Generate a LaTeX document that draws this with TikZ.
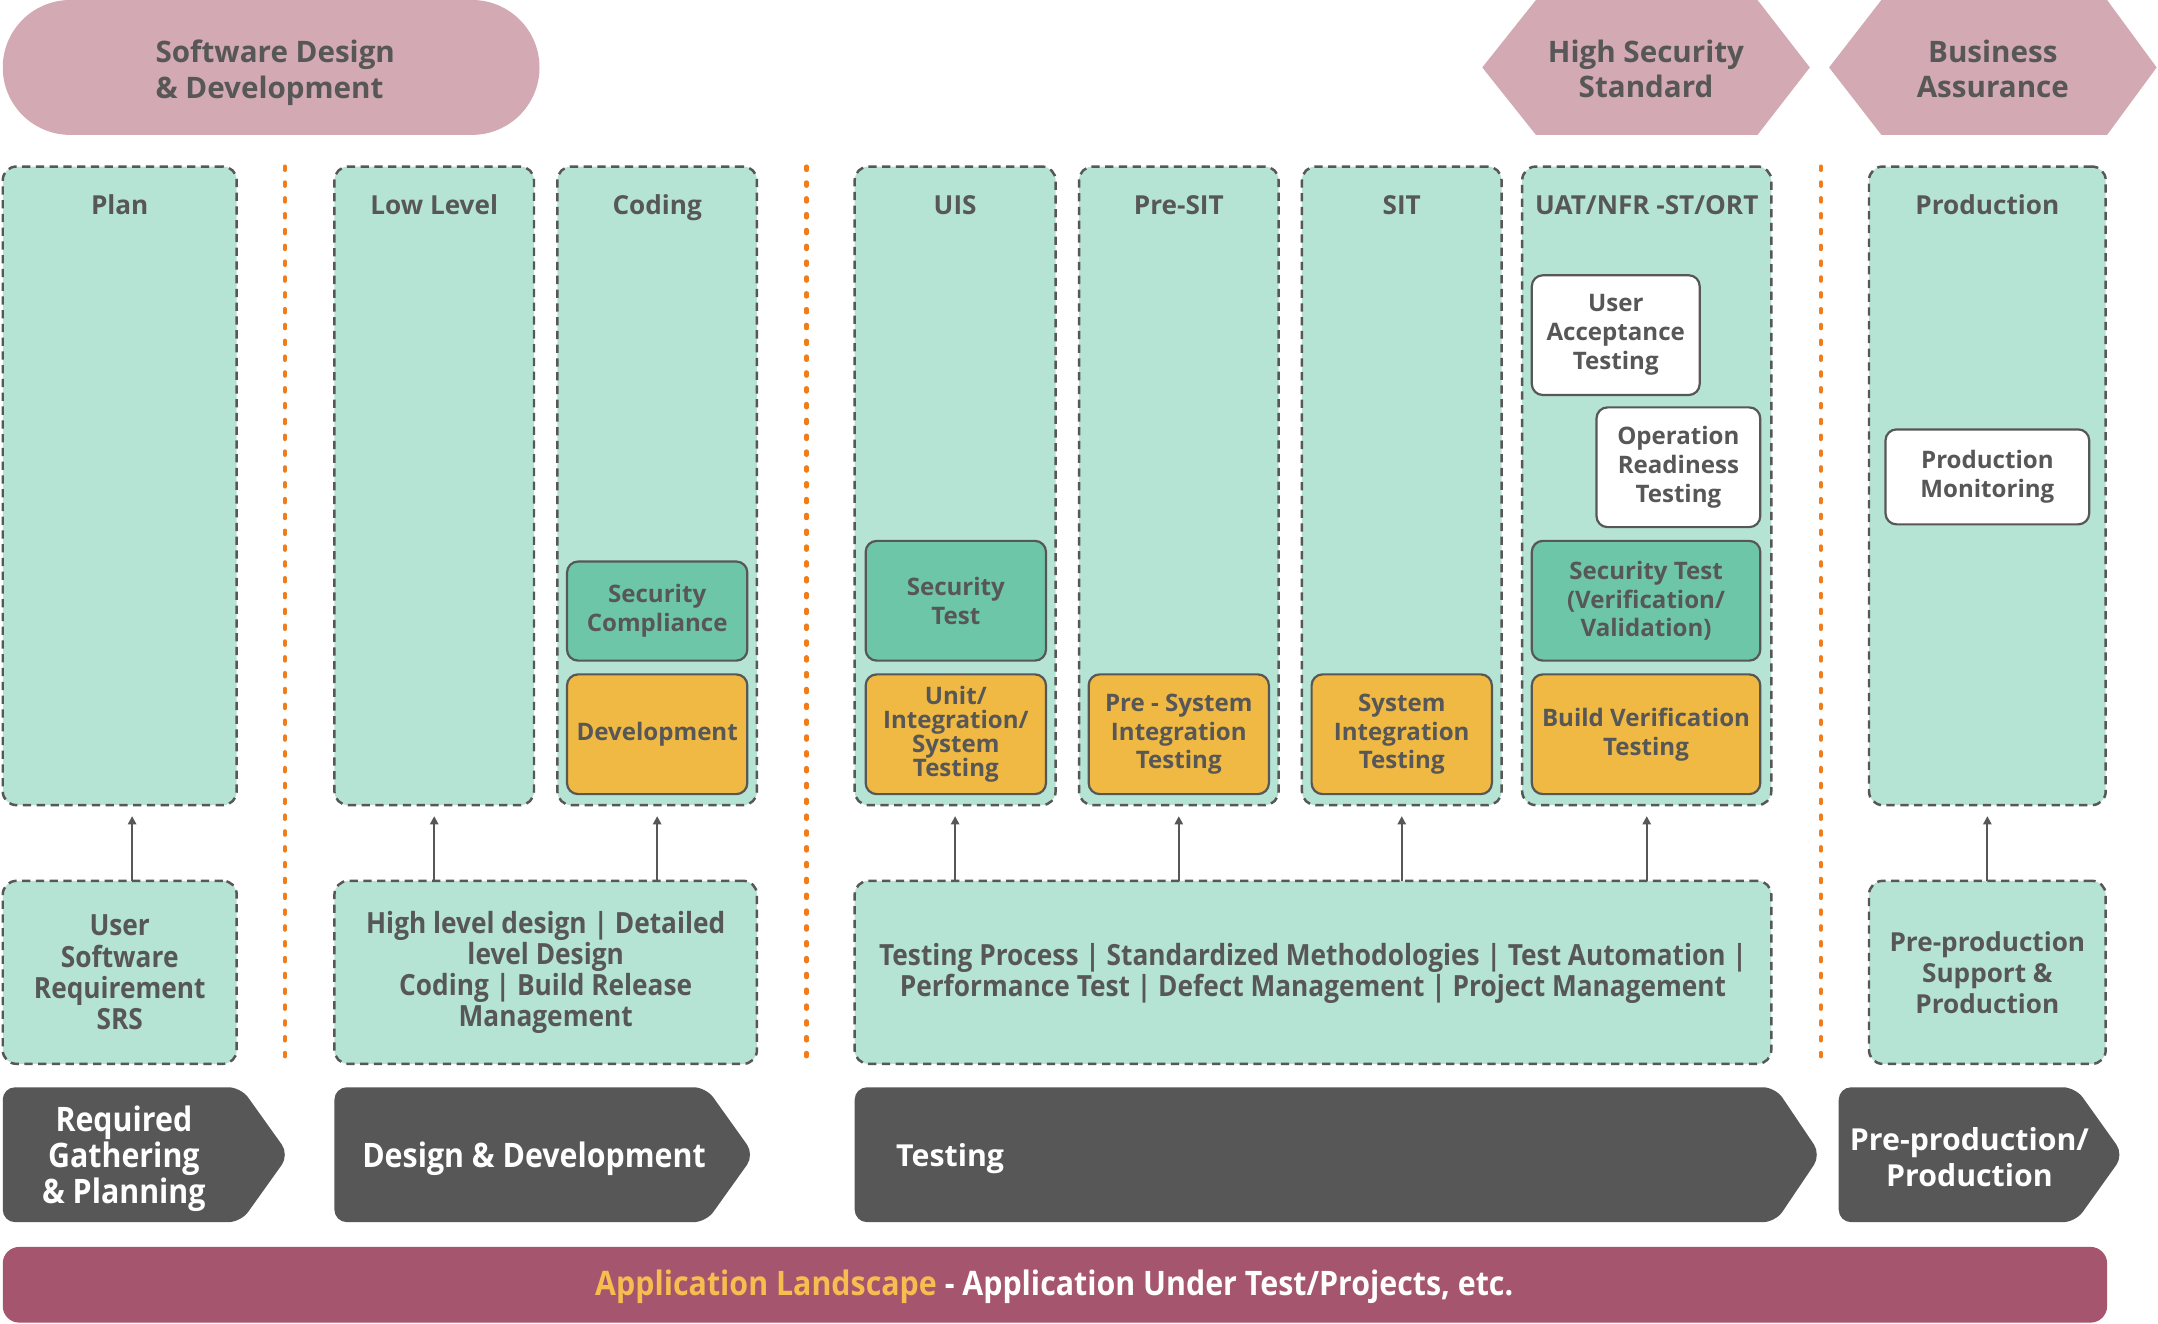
\documentclass[tikz,border=0pt]{standalone}
\usepackage{fontspec}
\setmainfont{Open Sans}
\newfontfamily\condfont{Open Sans}[FakeStretch=0.9]
\usetikzlibrary{arrows.meta}
\usetikzlibrary{positioning}
\definecolor{mint}{HTML}{B5E3D4}
\definecolor{secteal}{HTML}{6DC6A8}
\definecolor{devgold}{HTML}{EFB943}
\definecolor{rose}{HTML}{D3A9B4}
\definecolor{slate}{HTML}{575757}
\definecolor{wine}{HTML}{A5566E}
\definecolor{seporange}{HTML}{F07C1A}
\definecolor{hilite}{HTML}{F5BE4F}

\begin{document}
\begin{tikzpicture}[x=1pt,y=-1pt,
	colbox/.style={draw=slate,fill=mint,line width=1.8pt,dash pattern=on 6pt off 4pt,
		rounded corners=10pt,inner sep=0pt,outer sep=0pt,align=center,text=slate},
	hdr/.style={text=slate,inner sep=0pt,font=\fontsize{19}{22}\selectfont\bfseries},
	subbox/.style={draw=slate,line width=1.6pt,rounded corners=8pt,inner sep=0pt,outer sep=0pt,
		minimum width=131pt,minimum height=87pt,align=center,text=slate,
		font=\fontsize{17.5}{21}\selectfont\bfseries},
	lowtxt/.style={font=\condfont\fontsize{21.2}{22.6}\selectfont\bfseries},
	arr/.style={draw=slate,line width=1.4pt,-{Triangle[length=6pt,width=6pt]}},
	sep/.style={draw=seporange,line width=3pt,line cap=round,dash pattern=on 2.5pt off 9pt},
	chev/.style={fill=slate,rounded corners=9pt},
	chevtxt/.style={text=white,align=center,inner sep=0pt,font=\condfont\fontsize{24.5}{26}\selectfont\bfseries},
	toplbl/.style={text=slate,align=center,inner sep=0pt,font=\fontsize{21.5}{26}\selectfont\bfseries}]
	\def\colT{121};
	\def\colB{585};
	\def\chT{790};
	\def\chM{839};
	\def\chB{888};
	\useasboundingbox[fill=white] (0,0) rectangle (1568,962);
	% top banners
	\fill[rose,rounded corners=49pt] (2,0) rectangle (392,98);
	\node[toplbl,align=left] (sdd) at (200,53) {Software Design\\\& Development};
	\fill[rose] (1077,49) -- (1116,0) -- (1277,0) -- (1315,49) -- (1277,98) -- (1116,98) -- cycle;
	\node[toplbl] (hss) at (1196,50) {High Security\\Standard};
	\fill[rose] (1329,49) -- (1367,0) -- (1531,0) -- (1567,49) -- (1531,98) -- (1367,98) -- cycle;
	\node[toplbl] (ba) at (1448,50) {Business\\Assurance};
	% phase columns
	\foreach \n/\cx/\w/\t in {plan/87/170/Plan, low/315.5/145/Low Level, coding/477.5/145/Coding,
		uis/694/146/UIS, presit/856.5/145/Pre-SIT, sit/1018.5/145/SIT,
		uat/1196.5/181/{UAT/NFR -ST/ORT}, prod/1444/172/Production}{
		\node[colbox,minimum width=\w pt,minimum height=464pt] (\n) at (\cx,353) {};
		\node[hdr,anchor=base] (\n H) at ([yshift=-35pt]\n.north) {\t};
	}
	\node[subbox,fill=secteal,minimum height=72pt] (seccomp) at (477.5,444) {Security\\Compliance};
	\node[subbox,fill=devgold] (dev) at (477.5,533.5) {Development};
	\node[subbox,fill=secteal] (uissec) at (694.5,436.5) {Security\\Test};
	\node[subbox,fill=devgold,font=\fontsize{17.5}{17.5}\selectfont\bfseries] (uisunit) at (694.5,533.5) {Unit/\\Integration/\\System\\Testing};
	\node[subbox,fill=devgold] (presitbox) at (856.5,533.5) {Pre - System\\Integration\\Testing};
	\node[subbox,fill=devgold] (sitbox) at (1018.5,533.5) {System\\Integration\\Testing};
	\node[subbox,fill=white,minimum width=122pt] (uatbox) at (1174,243.5) {User\\Acceptance\\Testing};
	\node[subbox,fill=white,minimum width=119pt] (orbox) at (1219.5,339.5) {Operation\\Readiness\\Testing};
	\node[subbox,fill=secteal,minimum width=166pt] (uatsec) at (1196,436.5) {Security Test\\(Verification/\\Validation)};
	\node[subbox,fill=devgold,minimum width=166pt] (bvt) at (1196,533.5) {Build Verification\\Testing};
	\node[subbox,fill=white,minimum width=148pt,minimum height=69pt] (prodmon) at (1444,346.5) {Production\\Monitoring};
	% support boxes
	\node[colbox,lowtxt,minimum width=170pt,minimum height=133pt] (srs) at (87,706.5) {User\\Software\\Requirement\\SRS};
	\node[colbox,lowtxt,minimum width=307pt,minimum height=133pt] (hld) at (396.5,706.5) {High level design | Detailed\\level Design\\Coding | Build Release\\Management};
	\node[colbox,lowtxt,minimum width=666pt,minimum height=133pt,text depth=3pt] (tp) at (954,706.5) {Testing Process | Standardized Methodologies | Test Automation |\\Performance Test | Defect Management | Project Management};
	\node[colbox,minimum width=172pt,minimum height=133pt,font=\fontsize{19}{22.5}\selectfont\bfseries] (pps) at (1444,706.5) {Pre-production\\Support \&\\Production};
	\draw[arr] ([xshift=9pt]srs.north) -- ([xshift=9pt,yshift=-8pt]plan.south);
	\foreach \c/\b in {low/hld,coding/hld,uis/tp,presit/tp,sit/tp,uat/tp,prod/pps}
		\draw[arr] (\b.north -| \c.south) -- ([yshift=-8pt]\c.south);
	\foreach \x in {207,586,1323}
		\draw[sep] (\x,\colT) -- (\x,775);
	% phase arrows
	\fill[chev] (2,\chT) -- (175,\chT) -- (210,\chM) -- (175,\chB) -- (2,\chB) -- cycle;
	\node[chevtxt] (req) at (90,842) {Required\\Gathering\\\& Planning};
	\fill[chev] (243,\chT) -- (513,\chT) -- (548,\chM) -- (513,\chB) -- (243,\chB) -- cycle;
	\node[chevtxt] (dd) at (388,842) {Design \& Development};
	\fill[chev] (621,\chT) -- (1290,\chT) -- (1323,\chM) -- (1290,\chB) -- (621,\chB) -- cycle;
	\node[chevtxt,anchor=west,font=\fontsize{22}{26}\selectfont\bfseries] (tst) at (651,842) {Testing};
	\fill[chev] (1336,\chT) -- (1508,\chT) -- (1543,\chM) -- (1508,\chB) -- (1336,\chB) -- cycle;
	\node[chevtxt,font=\fontsize{22}{26}\selectfont\bfseries] (ppp) at (1431,841) {Pre-production/\\Production};
	% landscape bar
	\fill[wine,rounded corners=12pt] (2,906) rectangle (1531,961);
	\node[text=white,inner sep=0pt,font=\condfont\fontsize{24.5}{26}\selectfont\bfseries] (land) at (766,935) {\textcolor{hilite}{Application Landscape} - Application Under Test/Projects, etc.};
\end{tikzpicture}
\end{document}
